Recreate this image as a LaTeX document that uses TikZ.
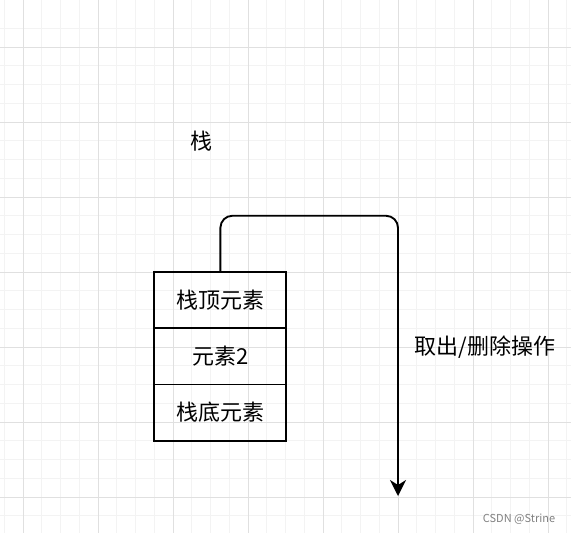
\documentclass[tikz,border=0pt]{standalone}
\usepackage{fontspec}
\setmainfont{Noto Sans CJK SC}
\usepackage{xcolor}
\usepackage{tikz}
\usetikzlibrary{arrows.meta}

\definecolor{gridminor}{HTML}{F3F3F3}
\definecolor{gridmajor}{HTML}{E0E0E0}

\begin{document}
\begin{tikzpicture}[x=1pt, y=-1pt, >={Stealth[length=16pt, width=16pt, inset=5pt]},
    cell/.style={draw, line width=1.875pt, minimum width=132pt, minimum height=56.25pt, inner sep=0pt, font=\fontsize{22}{26}\selectfont},
    label/.style={font=\fontsize{22}{26}\selectfont}]
            \useasboundingbox (0,0) rectangle (571,533);

            % Background grid (minor, then major)
            \foreach \k in {-1,...,29}
            {
                \draw[gridminor, line width=1pt] ({23+\k*18.75},0) -- ({23+\k*18.75},533);
                \draw[gridminor, line width=1pt] (0,{47+\k*18.75}) -- (571,{47+\k*18.75});
            }
            \foreach \k in {0,...,7}
            {
                \draw[gridmajor, line width=1pt] ({23+\k*75},0) -- ({23+\k*75},533);
                \draw[gridmajor, line width=1pt] (0,{47+\k*75}) -- (571,{47+\k*75});
            }

            % Title
            \node[label] (Title) at (201,141) {栈};

            % Stack cells
            \foreach \i/\t in {1/栈顶元素, 2/元素2, 3/栈底元素}
            {
                \node[cell] (Stack-\i) at (220.4,{300.1+(\i-1)*56.25}) {\t};
            }

            % Pop path
            \coordinate (Turn) at (398,215.75);
            \coordinate (End) at (398,496);
            \draw[->, line width=1.875pt, rounded corners=12pt] (Stack-1.north) |- (Turn) -- (End);
            \node[label, anchor=west] (Pop) at (411,347) {取出/删除操作};

            % Watermark
            \node[text=gray, font=\fontsize{11}{13}\selectfont] (Mark) at (519,519) {CSDN @Strine};

        \end{tikzpicture}
\end{document}
